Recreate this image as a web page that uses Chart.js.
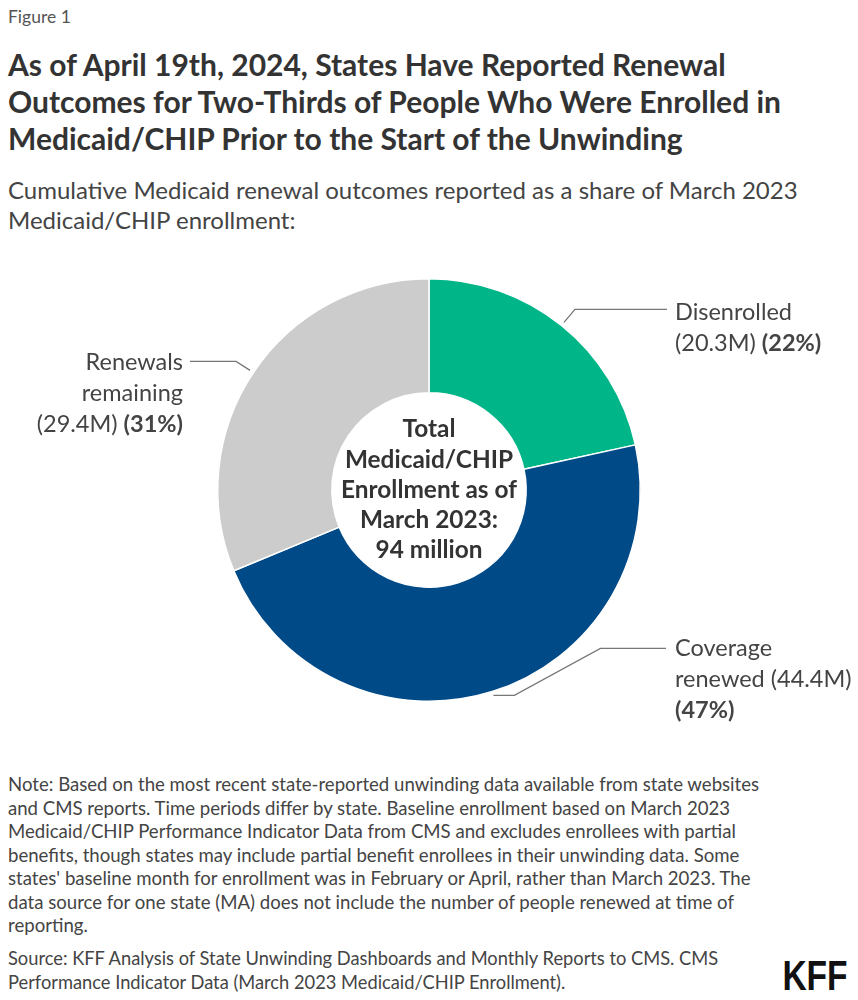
<!DOCTYPE html>
<html>
<head>
<meta charset="utf-8">
<script src="https://cdn.jsdelivr.net/npm/chart.js@4.4.1/dist/chart.umd.min.js"></script>
<style>
  body { margin: 0; background: #fff; font-family: Lato, "Noto Sans", sans-serif; color: #333; }
  #page { position: relative; width: 858px; height: 1000px; overflow: hidden; }
  .blk { position: absolute; left: 8px; white-space: nowrap; }
  #fig { top: 6px; font-size: 17.5px; color: #555; }
  #title { top: 46px; font-size: 30px; line-height: 37px; font-weight: 700; color: #333; }
  #sub { top: 175px; font-size: 24px; line-height: 30px; color: #444; }
  #note { top: 773px; font-size: 18.6px; line-height: 23.5px; color: #444; }
  #source { top: 946px; font-size: 18.3px; line-height: 24px; color: #444; }
  #logo { position: absolute; right: 10px; top: 951px; font-family: "Liberation Sans", Arial, sans-serif;
          font-weight: 700; font-size: 43px; color: #111; transform: scaleX(0.78); transform-origin: right top; }
  #wrap { position: absolute; left: 0; top: 250px; width: 858px; height: 480px; }
</style>
</head>
<body>
<div id="page">
  <div id="fig" class="blk">Figure 1</div>
  <div id="title" class="blk">As of April 19th, 2024, States Have Reported Renewal<br>Outcomes for Two-Thirds of People Who Were Enrolled in<br>Medicaid/CHIP Prior to the Start of the Unwinding</div>
  <div id="sub" class="blk">Cumulative Medicaid renewal outcomes reported as a share of March 2023<br>Medicaid/CHIP enrollment:</div>
  <div id="wrap"><canvas id="donut"></canvas></div>
  <div id="note" class="blk">Note: Based on the most recent state-reported unwinding data available from state websites<br>and CMS reports. Time periods differ by state. Baseline enrollment based on March 2023<br>Medicaid/CHIP Performance Indicator Data from CMS and excludes enrollees with partial<br>benefits, though states may include partial benefit enrollees in their unwinding data. Some<br>states' baseline month for enrollment was in February or April, rather than March 2023. The<br>data source for one state (MA) does not include the number of people renewed at time of<br>reporting.</div>
  <div id="source" class="blk">Source: KFF Analysis of State Unwinding Dashboards and Monthly Reports to CMS. CMS<br>Performance Indicator Data (March 2023 Medicaid/CHIP Enrollment).</div>
  <div id="logo">KFF</div>
</div>
<script>
// renewal outcomes, millions of people, clockwise from 12 o'clock
const categories = ['Disenrolled', 'Coverage renewed', 'Renewals remaining'];
const millions = [20.3, 44.4, 29.4];
const colors = ['#00B587', '#004A88', '#CCCCCC'];
// label lines; {v} = value, {p} = share (bold)
const labelLines = [
    ['Disenrolled', '{v} {p}'],
    ['Coverage', 'renewed {v}', '{p}'],
    ['Renewals', 'remaining', '{v} {p}']
];
const centerLines = ['Total', 'Medicaid/CHIP', 'Enrollment as of', 'March 2023:', '94 million'];

const total = millions.reduce((a, b) => a + b, 0);

// where each label sits and how its leader line bends (canvas px)
const labelLayout = [
    {align: 'left', x: 675, y: 62, bends: [[11, -13]], endX: 667},
    {align: 'left', x: 675, y: 398, bends: [[21, 0], [107, -47]], endX: 666},
    {align: 'right', x: 183, y: 112, bends: [[-14, -9]], endX: 190}
];

const FONT = 'Lato, "Noto Sans", sans-serif';
const LABEL_PX = 23.5;

const labelPlugin = {
    id: 'sliceLabels',
    afterDatasetsDraw(chart) {
        const ctx = chart.ctx;
        const arcs = chart.getDatasetMeta(0).data;
        ctx.save();
        arcs.forEach((arc, i) => {
            const lay = labelLayout[i];
            const mid = (arc.startAngle + arc.endAngle) / 2;
            const r = arc.outerRadius + 4;
            let px = arc.x + Math.cos(mid) * r;
            let py = arc.y + Math.sin(mid) * r;
            ctx.beginPath();
            ctx.moveTo(px, py);
            lay.bends.forEach(b => ctx.lineTo(px + b[0], py + b[1]));
            const last = lay.bends[lay.bends.length - 1];
            ctx.lineTo(lay.endX, py + last[1]);
            ctx.strokeStyle = '#777';
            ctx.lineWidth = 1.3;
            ctx.stroke();

            const v = '(' + millions[i].toFixed(1) + 'M)';
            const p = '(' + Math.round(millions[i] / total * 100) + '%)';
            ctx.textBaseline = 'middle';
            labelLines[i].forEach((line, j) => {
                const parts = line.replace('{v}', v).split('{p}');
                const segs = [{t: parts[0], b: false}];
                if (parts.length > 1) segs.push({t: p, b: true});
                let w = 0;
                segs.forEach(s => { ctx.font = (s.b ? '700 ' : '400 ') + LABEL_PX + 'px ' + FONT; w += ctx.measureText(s.t).width; });
                let x = lay.align === 'right' ? lay.x - w : lay.x;
                const y = lay.y + j * 31;
                segs.forEach(s => {
                    ctx.font = (s.b ? '700 ' : '400 ') + LABEL_PX + 'px ' + FONT;
                    ctx.fillStyle = '#444';
                    ctx.textAlign = 'left';
                    ctx.fillText(s.t, x, y);
                    x += ctx.measureText(s.t).width;
                });
            });
        });

        const a0 = arcs[0];
        ctx.font = '700 24.4px ' + FONT;
        ctx.fillStyle = '#333';
        ctx.textAlign = 'center';
        ctx.textBaseline = 'middle';
        centerLines.forEach((t, j) => {
            ctx.fillText(t, a0.x, a0.y + (j - 2) * 30.3);
        });
        ctx.restore();
    }
};

new Chart(document.getElementById('donut'), {
    type: 'doughnut',
    data: {
        labels: categories,
        datasets: [{
            data: millions,
            backgroundColor: colors,
            borderColor: '#ffffff',
            borderWidth: 1.5
        }]
    },
    options: {
        responsive: true,
        maintainAspectRatio: false,
        animation: false,
        cutout: '46%',
        layout: {padding: {top: 28, bottom: 28}},
        plugins: {
            legend: {display: false},
            tooltip: {enabled: false}
        }
    },
    plugins: [labelPlugin]
});
</script>
</body>
</html>
